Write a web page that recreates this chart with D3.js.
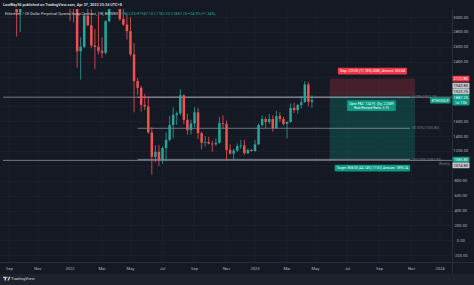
<!DOCTYPE html>
<html>
<head>
<meta charset="utf-8">
<script src="https://cdn.jsdelivr.net/npm/d3@7"></script>
<style>
  html, body { margin: 0; padding: 0; background: #151924; overflow: hidden; }
  svg { display: block; }
  text { font-family: Roboto, "Liberation Sans", "DejaVu Sans", sans-serif; }
</style>
</head>
<body>
<svg id="chart" width="474" height="285"></svg>
<script>
// ETH/USD weekly candles (week start, open, high, low, close)
const weekStarts = [
  "2021-08-30","2021-09-06","2021-09-13","2021-09-20","2021-09-27","2021-10-04","2021-10-11","2021-10-18",
  "2021-10-25","2021-11-01","2021-11-08","2021-11-15","2021-11-22","2021-11-29","2021-12-06","2021-12-13",
  "2021-12-20","2021-12-27","2022-01-03","2022-01-10","2022-01-17","2022-01-24","2022-01-31","2022-02-07",
  "2022-02-14","2022-02-21","2022-02-28","2022-03-07","2022-03-14","2022-03-21","2022-03-28","2022-04-04",
  "2022-04-11","2022-04-18","2022-04-25","2022-05-02","2022-05-09","2022-05-16","2022-05-23","2022-05-30",
  "2022-06-06","2022-06-13","2022-06-20","2022-06-27","2022-07-04","2022-07-11","2022-07-18","2022-07-25",
  "2022-08-01","2022-08-08","2022-08-15","2022-08-22","2022-08-29","2022-09-05","2022-09-12","2022-09-19",
  "2022-09-26","2022-10-03","2022-10-10","2022-10-17","2022-10-24","2022-10-31","2022-11-07","2022-11-14",
  "2022-11-21","2022-11-28","2022-12-05","2022-12-12","2022-12-19","2022-12-26","2023-01-02","2023-01-09",
  "2023-01-16","2023-01-23","2023-01-30","2023-02-06","2023-02-13","2023-02-20","2023-02-27","2023-03-06",
  "2023-03-13","2023-03-20","2023-03-27","2023-04-03","2023-04-10","2023-04-17","2023-04-24"
];
const opens = [
  3225,3940,3410,3330,3060,3390,3420,3830, 4170,4290,4610,4570,4320,4300,4120,3780,
  3940,4060,3760,3150,3330,2540,2600,3020, 2890,2620,2600,2545,2520,2945,3130,3450,
  3260,2975,2900,2810,2500,2140,2050,1820, 1800,1450,1120,1190,1075,1240,1350,1550,
  1685,1705,1950,1620,1480,1570,1720,1440, 1310,1320,1300,1290,1310,1575,1565,1215,
  1165,1205,1265,1275,1170,1215,1200,1290, 1550,1630,1590,1630,1510,1670,1630,1565,
  1590,1780,1750,1820,1855,2095,1862.35
];
const highs = [
  4030,3975,3680,3470,3450,3660,3900,4380, 4460,4770,4870,4600,4550,4780,4370,4130,
  4130,4080,3860,3410,3360,2730,3060,3280, 3200,2840,3050,2730,2960,3170,3480,3580,
  3300,3190,3030,3000,2650,2180,2080,1970, 1920,1520,1280,1280,1260,1450,1670,1790,
  1730,2030,1960,1700,1620,1790,1780,1460, 1400,1390,1340,1370,1660,1680,1610,1290,
  1230,1300,1350,1350,1230,1230,1350,1570, 1680,1660,1700,1680,1740,1720,1660,1600,
  1840,1850,1830,1940,2140,2130,1947.10
];
const lows = [
  3160,3200,3300,2740,2800,3290,3400,3690, 3900,4150,4520,3960,3920,3500,3650,3650,
  3890,3620,2950,2930,2320,2160,2580,2880, 2580,2300,2500,2450,2500,2930,3120,3180,
  2950,2880,2700,2470,1720,1950,1730,1750, 1430,880,1050,1000,1030,1060,1330,1370,
  1550,1680,1560,1420,1420,1520,1360,1220, 1260,1290,1190,1270,1300,1500,1070,1150,
  1070,1190,1230,1150,1160,1190,1190,1280, 1530,1510,1560,1460,1500,1590,1540,1370,
  1580,1710,1700,1770,1850,1800,1782.20
];
const closes = [
  3940,3410,3330,3060,3390,3420,3830,4170, 4290,4610,4570,4320,4300,4120,3780,3940,
  4060,3760,3150,3330,2540,2600,3020,2890, 2620,2600,2545,2520,2945,3130,3450,3260,
  2975,2900,2810,2500,2140,2050,1820,1800, 1450,1120,1190,1075,1240,1350,1550,1685,
  1705,1950,1620,1480,1570,1720,1440,1310, 1320,1300,1290,1310,1575,1565,1215,1165,
  1205,1265,1275,1170,1215,1200,1290,1550, 1630,1590,1630,1510,1670,1630,1565,1590,
  1780,1750,1820,1855,2095,1862.35,1887.25
];

// Axis ticks
const timeTickDates = ["2021-09-06","2021-11-01","2022-01-03","2022-03-07","2022-05-02","2022-07-04",
  "2022-09-05","2022-11-07","2023-01-02","2023-03-06","2023-05-01","2023-07-03","2023-09-04",
  "2023-11-06","2024-01-01"];
const timeTickLabels = ["Sep","Nov","2022","Mar","May","Jul","Sep","Nov","2023","Mar","May","Jul","Sep","Nov","2024"];
const priceTicks = [-200,0,200,400,600,800,1000,1200,1400,1600,1800,2000,2200,2400,2600,2800,3000];

// Drawings
const hLineLevels = [1923.75, 1074.80];
const fibLevels = [0, 0.5, 1];
const fibHigh = 1923.75, fibLow = 1087.95;
const fibRange = ["2022-05-16", "2023-11-03"];
const positionRange = ["2023-05-29", "2023-11-13"];
const entryPrice = 1943.80, stopPrice = 2172.80, targetPrice = 1085.80;
const positionQty = 2.2089, tickSize = 0.05;

const W = 474, H = 285;
const pane = { left: 0, right: 452, top: 9, bottom: 262 };
const C = {
  bg: "#151924", bar: "#1e222d", grid: "#1b1f2b", border: "#2a2e39",
  text: "#b2b5be", up: "#26a69a", down: "#ef5350", line: "rgba(178,181,190,0.62)"
};

const parse = d3.timeParse("%Y-%m-%d");
const candles = weekStarts.map((d, i) => ({
  date: parse(d), o: opens[i], h: highs[i], l: lows[i], c: closes[i]
}));

const x = d3.scaleTime()
  .domain([parse("2022-01-03"), parse("2023-01-02")])
  .range([70, 255]);
const y = d3.scaleLinear().domain([-200, 3000]).range([255.2, 17.1]);

const svg = d3.select("#chart");
svg.append("rect").attr("width", W).attr("height", H).attr("fill", C.bg);

const defs = svg.append("defs");
defs.append("clipPath").attr("id", "paneClip")
  .append("rect").attr("x", pane.left).attr("y", pane.top)
  .attr("width", pane.right - pane.left).attr("height", pane.bottom - pane.top);

// grid
const grid = svg.append("g").attr("clip-path", "url(#paneClip)");
grid.selectAll("line.v").data(timeTickDates).join("line")
  .attr("x1", d => x(parse(d))).attr("x2", d => x(parse(d)))
  .attr("y1", pane.top).attr("y2", pane.bottom)
  .attr("stroke", C.grid).attr("stroke-width", 1);
grid.selectAll("line.h").data(priceTicks).join("line")
  .attr("x1", pane.left).attr("x2", pane.right)
  .attr("y1", d => Math.round(y(d)) + 0.5).attr("y2", d => Math.round(y(d)) + 0.5)
  .attr("stroke", C.grid).attr("stroke-width", 1);

const plot = svg.append("g").attr("clip-path", "url(#paneClip)");

// position tool (short): risk zone above entry, reward zone below
const px0 = x(parse(positionRange[0])), px1 = x(parse(positionRange[1]));
plot.append("rect").attr("x", px0).attr("width", px1 - px0)
  .attr("y", y(stopPrice)).attr("height", y(entryPrice) - y(stopPrice))
  .attr("fill", "rgba(242,54,69,0.22)");
plot.append("rect").attr("x", px0).attr("width", px1 - px0)
  .attr("y", y(entryPrice)).attr("height", y(targetPrice) - y(entryPrice))
  .attr("fill", "rgba(8,153,129,0.27)");

// horizontal levels
plot.selectAll("line.hl").data(hLineLevels).join("line")
  .attr("x1", 3).attr("x2", pane.right)
  .attr("y1", d => y(d)).attr("y2", d => y(d))
  .attr("stroke", C.line).attr("stroke-width", 1);

// fib retracement
const fx0 = x(parse(fibRange[0])), fx1 = x(parse(fibRange[1]));
const fibPrice = f => fibHigh - (fibHigh - fibLow) * f;
plot.selectAll("line.fib").data(fibLevels).join("line")
  .attr("x1", fx0).attr("x2", fx1)
  .attr("y1", d => y(fibPrice(d))).attr("y2", d => y(fibPrice(d)))
  .attr("stroke", "rgba(178,181,190,0.6)").attr("stroke-width", 1);
plot.selectAll("text.fib").data(fibLevels).join("text")
  .attr("x", fx1 + 2).attr("y", d => y(fibPrice(d)) + 1.2)
  .attr("font-size", 3.6).attr("fill", "#787b86")
  .text(d => `${(d * 100).toFixed(2)}%(${fibPrice(d).toFixed(2)})`);
plot.append("text").attr("x", 450).attr("y", y(hLineLevels[1]) + 4.3)
  .attr("text-anchor", "end").attr("font-size", 3.6).attr("fill", "#787b86").text("Weekly");

// candles
const bw = 2.5;
const cg = plot.append("g");
cg.selectAll("line.wick").data(candles).join("line")
  .attr("x1", d => x(d.date)).attr("x2", d => x(d.date))
  .attr("y1", d => y(d.h)).attr("y2", d => y(d.l))
  .attr("stroke", d => d.c >= d.o ? C.up : C.down).attr("stroke-width", 0.8);
cg.selectAll("rect.body").data(candles).join("rect")
  .attr("x", d => x(d.date) - bw / 2).attr("width", bw)
  .attr("y", d => y(Math.max(d.o, d.c)))
  .attr("height", d => Math.max(0.8, Math.abs(y(d.o) - y(d.c))))
  .attr("fill", d => d.c >= d.o ? C.up : C.down);

// pill-shaped labels sized to their text
function pill(g, cx, cy, lines, bg, fg, fs, padX, padY, anchor) {
  const grp = g.append("g");
  const rect = grp.append("rect").attr("rx", 0.9).attr("fill", bg);
  const lh = fs * 1.25;
  const t = grp.append("text").attr("font-size", fs).attr("fill", fg)
    .attr("text-anchor", "middle");
  lines.forEach((s, i) => {
    t.append("tspan").attr("x", cx)
      .attr("y", cy - (lines.length - 1) * lh / 2 + i * lh + fs * 0.36).text(s);
  });
  const bb = t.node().getBBox();
  const w = bb.width + padX * 2, h = lines.length * lh + padY * 2;
  let left = cx - w / 2;
  if (anchor === "end") { left = cx - w; t.selectAll("tspan").attr("x", cx - w / 2); }
  rect.attr("x", left).attr("y", cy - h / 2).attr("width", w).attr("height", h);
  return { top: cy - h / 2, bottom: cy + h / 2 };
}

// position tool labels
const pcx = (px0 + px1) / 2;
const stopDiff = stopPrice - entryPrice, targetDiff = entryPrice - targetPrice;
const last = candles[candles.length - 1];
const openPL = (entryPrice - last.c) * positionQty;
const lbl = svg.append("g");
pill(lbl, pcx, y(stopPrice) - 7.5,
  [`Stop: ${stopDiff.toFixed(2)} (${(stopDiff / entryPrice * 100).toFixed(2)}%) ${Math.round(stopDiff / tickSize)}, Amount: ${(stopDiff * positionQty).toFixed(2)}`],
  "#f23645", "#ffffff", 3.3, 1.8, 1.3);
pill(lbl, pcx - 1, y(entryPrice) + 10,
  [`Open P&L: ${openPL.toFixed(2)}, Qty: ${positionQty}`, `Risk/Reward Ratio: ${(targetDiff / stopDiff).toFixed(2)}`],
  "#089981", "#ffffff", 3.3, 2.2, 1.2);
pill(lbl, pcx, y(targetPrice) + 8.5,
  [`Target: ${targetDiff.toFixed(2)} (${(targetDiff / entryPrice * 100).toFixed(2)}%) ${Math.round(targetDiff / tickSize)}, Amount: ${(targetDiff * positionQty).toFixed(2)}`],
  "#089981", "#ffffff", 3.3, 1.8, 1.3);

// axes frame
svg.append("line").attr("x1", pane.right + 0.5).attr("x2", pane.right + 0.5)
  .attr("y1", pane.top).attr("y2", 274).attr("stroke", C.border);
svg.append("line").attr("x1", 0).attr("x2", W)
  .attr("y1", pane.bottom + 0.5).attr("y2", pane.bottom + 0.5).attr("stroke", C.border);

// price axis highlight labels: last price stays put, others are pushed away from it
const axisLabels = [
  { v: stopPrice, bg: "#f23645", fg: "#ffffff", lines: [stopPrice.toFixed(2)] },
  { v: entryPrice, bg: "#c3c5cb", fg: "#131722", lines: [entryPrice.toFixed(2)] },
  { v: hLineLevels[0], bg: "#c3c5cb", fg: "#131722", lines: [hLineLevels[0].toFixed(2)] },
  { v: last.c, bg: "#089981", fg: "#ffffff", lines: [last.c.toFixed(2), "1d 13h"], fixed: true },
  { v: targetPrice, bg: "#089981", fg: "#ffffff", lines: [targetPrice.toFixed(2)] },
  { v: hLineLevels[1], bg: "#c3c5cb", fg: "#131722", lines: [hLineLevels[1].toFixed(2)] }
];
const lh = 5.2;
axisLabels.forEach(a => { a.h = a.lines.length * lh + 0.6; a.cy = y(a.v); });
axisLabels.sort((a, b) => a.cy - b.cy);
const fi = axisLabels.findIndex(a => a.fixed);
for (let i = fi - 1; i >= 0; i--) {
  const nxt = axisLabels[i + 1], cur = axisLabels[i];
  const limit = nxt.cy - nxt.h / 2;
  if (cur.cy + cur.h / 2 > limit) cur.cy = limit - cur.h / 2;
}
for (let i = fi + 1; i < axisLabels.length; i++) {
  const prv = axisLabels[i - 1], cur = axisLabels[i];
  const limit = prv.cy + prv.h / 2;
  if (cur.cy - cur.h / 2 < limit) cur.cy = limit + cur.h / 2;
}

// price tick labels not covered by highlight labels
const axisX = 460.8;
const visibleTicks = priceTicks.filter(v => {
  const ty = y(v);
  if (ty < pane.top + 3) return false;
  return !axisLabels.some(a => ty > a.cy - a.h / 2 - 2.5 && ty < a.cy + a.h / 2 + 2.5);
});
svg.append("g").selectAll("text").data(visibleTicks).join("text")
  .attr("x", axisX).attr("y", d => y(d) + 1.4)
  .attr("text-anchor", "middle").attr("font-size", 4.1).attr("fill", C.text)
  .text(d => d.toFixed(2));

const ag = svg.append("g");
axisLabels.forEach(a => {
  ag.append("rect").attr("x", 452.5).attr("y", a.cy - a.h / 2)
    .attr("width", 17).attr("height", a.h).attr("rx", 0.8).attr("fill", a.bg);
  a.lines.forEach((s, i) => {
    ag.append("text").attr("x", axisX).attr("text-anchor", "middle")
      .attr("y", a.cy - a.h / 2 + 0.3 + lh * i + lh / 2 + 1.4)
      .attr("font-size", 4.0).attr("fill", a.fg).text(s);
  });
});
// symbol tag next to the last price
const lastLbl = axisLabels.find(a => a.fixed);
pill(svg, 450.5, y(last.c) + 0.6, ["ETHUSD.P"], "#089981", "#ffffff", 3.7, 1.4, 0.7, "end");

// time axis labels
svg.append("g").selectAll("text").data(timeTickDates).join("text")
  .attr("x", d => x(parse(d))).attr("y", 270)
  .attr("text-anchor", "middle").attr("font-size", 4.1).attr("fill", C.text)
  .text((d, i) => timeTickLabels[i]);

// bottom bar with brand
svg.append("rect").attr("x", 0).attr("y", 274).attr("width", W).attr("height", 11).attr("fill", C.bar);
const logo = svg.append("g").attr("transform", "translate(3,276.8)").attr("fill", "#d1d4dc");
logo.append("path").attr("d", "M0,0 H3 V3.6 H1.6 V1.3 H0 Z");
logo.append("circle").attr("cx", 3.9).attr("cy", 0.8).attr("r", 0.75);
logo.append("path").attr("d", "M4.4,3.6 L6.0,0 H7.4 L5.8,3.6 Z");
svg.append("text").attr("x", 11).attr("y", 280.1).attr("font-size", 4.3)
  .attr("fill", "#d1d4dc").text("TradingView");

// header
svg.append("text").attr("x", 3).attr("y", 6).attr("font-size", 3.8)
  .attr("font-weight", "bold").attr("fill", "#d1d4dc")
  .text("LowWay94 published on TradingView.com, Apr 27, 2023 23:34 UTC+8");
const prev = candles[candles.length - 2];
const chg = last.c - prev.c;
const hdr = svg.append("text").attr("x", 5).attr("y", 14.5).attr("font-size", 3.8);
hdr.append("tspan").attr("fill", "#d1d4dc")
  .text("Ethereum / US Dollar Perpetual Quanto Swap Contract, 1W, BITMEX  ");
hdr.append("tspan").attr("fill", last.c >= last.o ? C.up : C.down)
  .text(`O${last.o.toFixed(2)} H${last.h.toFixed(2)} L${last.l.toFixed(2)} C${last.c.toFixed(2)} ${chg >= 0 ? "+" : ""}${chg.toFixed(2)} (${chg >= 0 ? "+" : ""}${(chg / prev.c * 100).toFixed(2)}%)`);
</script>
</body>
</html>
